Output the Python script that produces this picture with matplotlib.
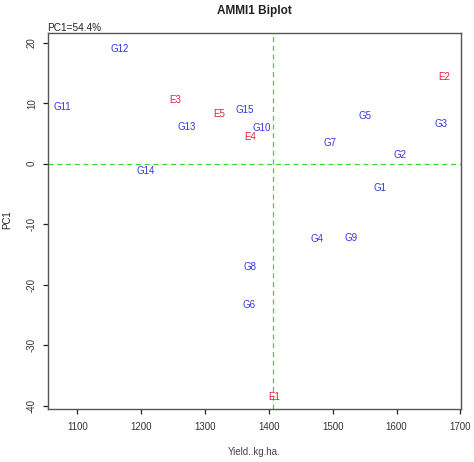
import matplotlib
matplotlib.use("Agg")
import matplotlib.pyplot as plt

# Data
gen_names = ["G1", "G2", "G3", "G4", "G5", "G6", "G7", "G8", "G9", "G10",
             "G11", "G12", "G13", "G14", "G15"]
gen_yield = [1574, 1606, 1670, 1475, 1550, 1369, 1495, 1371, 1529, 1388,
             1077, 1167, 1272, 1207, 1362]
gen_pc1 = [-4.1, 1.4, 6.6, -12.5, 7.9, -23.3, 3.4, -17.1, -12.35, 5.9,
           9.3, 19.0, 6.1, -1.2, 8.8]
env_names = ["E1", "E2", "E3", "E4", "E5"]
env_yield = [1409, 1675, 1254, 1370, 1322]
env_pc1 = [-38.5, 14.4, 10.5, 4.4, 8.2]
mean_yield = 1407
x_ticks = [1100, 1200, 1300, 1400, 1500, 1600, 1700]
y_ticks = [-40, -30, -20, -10, 0, 10, 20]

plt.rcParams['font.family'] = ['Liberation Sans', 'DejaVu Sans']

W, H = 474, 462
fig = plt.figure(figsize=(W / 100, H / 100), dpi=100)
ax = fig.add_axes([48 / W, 1 - 409 / H, (461 - 48) / W, (409 - 33) / H])

blue = "#3535e6"
red = "#e6203f"
green = "#3ed43e"

for n, x, y in zip(gen_names, gen_yield, gen_pc1):
    ax.text(x, y, n, color=blue, fontsize=7, ha="center", va="center")
for n, x, y in zip(env_names, env_yield, env_pc1):
    ax.text(x, y, n, color=red, fontsize=7, ha="center", va="center")

ax.axvline(mean_yield, color=green, lw=0.9, ls=(0, (4, 3)))
ax.axhline(0, color=green, lw=0.9, ls=(0, (4, 3)))

ax.set_xlim(1054, 1701)
ax.set_ylim(-40.55, 21.6)
ax.set_xticks(x_ticks)
ax.set_yticks(y_ticks)
ax.set_xticklabels([str(v) for v in x_ticks], fontsize=7, color="#333333")
ax.set_yticklabels([str(v) for v in y_ticks], fontsize=7, color="#333333",
                   rotation=90, va="center")
ax.tick_params(axis="x", length=3.6, width=0.9, pad=6, color="#222222")
ax.tick_params(axis="y", length=3.6, width=0.9, pad=4.3, color="#222222")
for s in ax.spines.values():
    s.set_color("#555555")
    s.set_linewidth(1.0)

fig.text(254 / W, 1 - 11 / H, "AMMI1 Biplot", ha="center", va="center",
         fontsize=8.5, fontweight="bold", color="#222222")
fig.text(47 / W, 1 - 28 / H, "PC1=54.4%", ha="left", va="center",
         fontsize=7.2, color="#222222")
fig.text(254 / W, 1 - 451.7 / H, "Yield..kg.ha.", ha="center", va="center",
         fontsize=7, color="#444444")
fig.text(7 / W, 1 - 220 / H, "PC1", ha="center", va="center",
         fontsize=7, color="#222222", rotation=90)

fig.savefig("out.png", dpi=100)
